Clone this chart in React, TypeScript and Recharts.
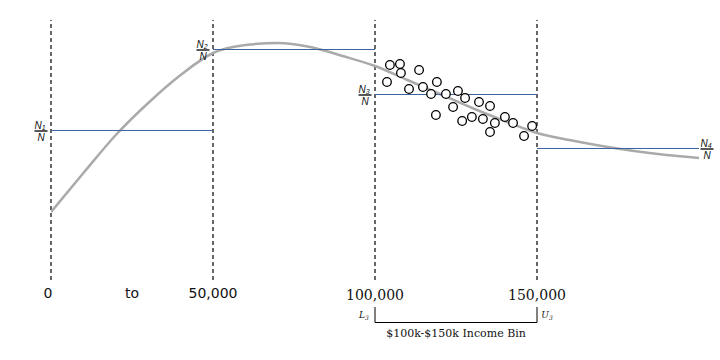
import {
  ComposedChart,
  Line,
  Scatter,
  XAxis,
  YAxis,
  ReferenceLine,
  ReferenceDot,
} from 'recharts'

// x in dollars, y in arbitrary density units (0..260)
const curveX = [0, 10000, 20000, 30000, 40000, 50000, 60000, 70000, 80000, 90000, 100000, 110000, 120000, 130000, 140000, 150000, 160000, 170000, 180000, 190000, 200000]
const curveY = [68, 107, 145, 177, 205, 227, 235, 237, 233, 224, 214, 200, 186, 172, 159, 147, 140, 134, 129, 125, 122]

const dotX = [104600, 107700, 108000, 113600, 103700, 110500, 114800, 119100, 117300, 121900, 125600, 127800, 132100, 135500, 124100, 118800, 126900, 129900, 133300, 137000, 140100, 142600, 135500, 146000, 148500]
const dotY = [215, 216, 207, 210, 198, 191, 193, 198, 186, 186, 189, 182, 178, 174, 173, 165, 159, 163, 161, 157, 163, 157, 148, 144, 154]

const binEdges = [0, 50000, 100000, 150000, 200000]
const binShares = [149.5, 230.5, 185.5, 131.5]
const binSubs = ['1', '2', '3', '4']

const tickValues = [0, 25000, 50000, 100000, 150000]
const tickLabels = ['0', 'to', '50,000', '100,000', '150,000']

const bracketFrom = 100000
const bracketTo = 150000
const bracketText = '$100k-$150k Income Bin'

const curveData = curveX.map((x, i) => ({ x, y: curveY[i] }))
const dotData = dotX.map((x, i) => ({ x, y: dotY[i] }))

const blue = '#3d63a0'

function Tick(props: any) {
  const { x, y, payload } = props
  const i = tickValues.indexOf(payload.value)
  const serif = payload.value >= 100000
  return (
    <text
      x={x + (payload.value === 0 ? -3 : 0)}
      y={y}
      dy={serif ? 12 : 10}
      textAnchor="middle"
      fontSize={14}
      fontFamily={serif ? 'DejaVu Serif' : 'DejaVu Sans'}
      fill="#111"
    >
      {tickLabels[i]}
    </text>
  )
}

function fraction(sub: string, side: 'left' | 'right') {
  return (props: any) => {
    const { cx, cy } = props
    const x = side === 'left' ? cx - 10 : cx + 8
    return (
      <g fontFamily="Liberation Sans" fontStyle="italic" fill="#111">
        <text x={x - 1} y={cy - 2} textAnchor="middle" fontSize={10}>
          N<tspan fontSize={7} dy={1.5}>{sub}</tspan>
        </text>
        <line x1={x - 6.5} x2={x + 6.5} y1={cy + 0.5} y2={cy + 0.5} stroke="#111" strokeWidth={1.4} />
        <text x={x} y={cy + 10} textAnchor="middle" fontSize={10}>N</text>
      </g>
    )
  }
}

function BracketLabel(props: any) {
  const { cx, cy } = props
  return (
    <text x={cx} y={cy + 15} textAnchor="middle" fontSize={11} fontFamily="DejaVu Serif" fill="#111">
      {bracketText}
    </text>
  )
}

function EdgeLabel(text: string, sub: string, dx: number) {
  return (props: any) => {
    const { cx, cy } = props
    return (
      <text x={cx + dx} y={cy + 5} textAnchor="middle" fontSize={9} fontFamily="DejaVu Serif" fontStyle="italic" fill="#111">
        {text}
        <tspan fontSize={6} dy={1.5}>{sub}</tspan>
      </text>
    )
  }
}

export default function App() {
  return (
    <div style={{ position: 'absolute', left: 0, top: 0, background: '#fff' }}>
      <ComposedChart width={720} height={360} margin={{ top: 20, right: 21, left: 51, bottom: 50 }}>
        <XAxis
          type="number"
          dataKey="x"
          domain={[0, 200000]}
          ticks={tickValues}
          tick={<Tick />}
          axisLine={false}
          tickLine={false}
          height={30}
          allowDataOverflow
        />
        <YAxis type="number" dataKey="y" domain={[0, 260]} hide width={0} allowDataOverflow />

        {binEdges.slice(0, 4).map((e) => (
          <ReferenceLine key={'v' + e} x={e} stroke="#000" strokeWidth={1.2} strokeDasharray="4 3" />
        ))}

        <Line
          data={curveData}
          dataKey="y"
          type="monotone"
          stroke="#aaaaaa"
          strokeWidth={2.5}
          dot={false}
          isAnimationActive={false}
        />

        {binShares.map((s, i) => (
          <ReferenceLine
            key={'h' + i}
            segment={[
              { x: binEdges[i], y: s },
              { x: binEdges[i + 1], y: s },
            ]}
            stroke={blue}
            strokeWidth={1}
            ifOverflow="visible"
          />
        ))}

        <Scatter
          data={dotData}
          dataKey="y"
          fill="#fff"
          stroke="#000"
          strokeWidth={1.3}
          shape={(p: any) => <circle cx={p.cx} cy={p.cy} r={4.3} fill="#fff" stroke="#000" strokeWidth={1.3} />}
          isAnimationActive={false}
        />

        {binShares.map((s, i) => (
          <ReferenceDot
            key={'f' + i}
            x={i === 3 ? binEdges[4] : binEdges[i]}
            y={s}
            r={0}
            ifOverflow="visible"
            shape={fraction(binSubs[i], i === 3 ? 'right' : 'left')}
          />
        ))}

        <ReferenceLine segment={[{ x: bracketFrom, y: -27 }, { x: bracketFrom, y: -42.5 }]} stroke="#000" strokeWidth={1} ifOverflow="visible" />
        <ReferenceLine segment={[{ x: bracketFrom, y: -42.5 }, { x: bracketTo, y: -42.5 }]} stroke="#000" strokeWidth={1} ifOverflow="visible" />
        <ReferenceLine segment={[{ x: bracketTo, y: -42.5 }, { x: bracketTo, y: -27 }]} stroke="#000" strokeWidth={1} ifOverflow="visible" />
        <ReferenceDot x={bracketFrom} y={-33} r={0} ifOverflow="visible" shape={EdgeLabel('L', '3', -11)} />
        <ReferenceDot x={bracketTo} y={-33} r={0} ifOverflow="visible" shape={EdgeLabel('U', '3', 10)} />
        <ReferenceDot x={(bracketFrom + bracketTo) / 2} y={-42} r={0} ifOverflow="visible" shape={BracketLabel} />
      </ComposedChart>
    </div>
  )
}
